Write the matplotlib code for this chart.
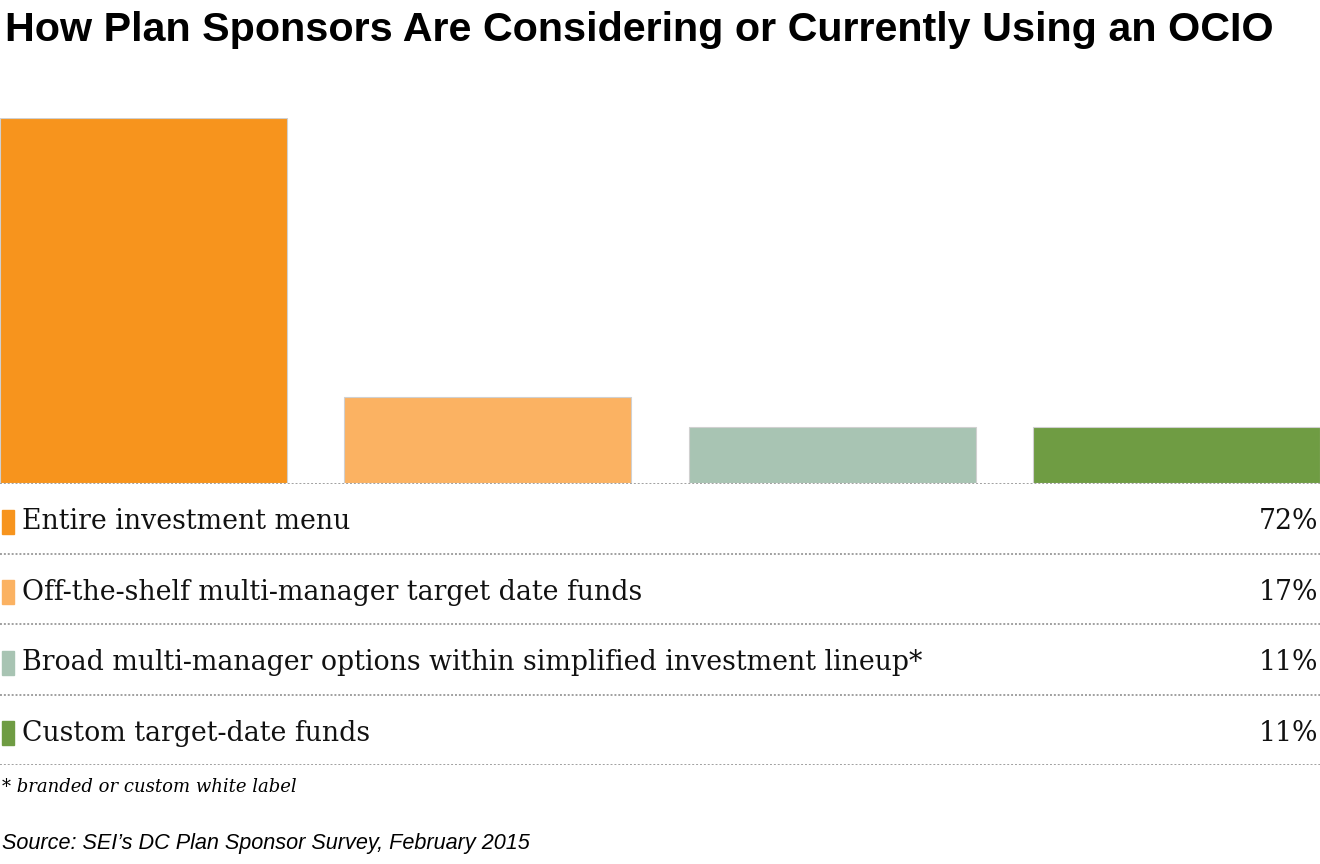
import matplotlib.pyplot as plt
from matplotlib.patches import Rectangle

categories = [
    "Entire investment menu",
    "Off-the-shelf multi-manager target date funds",
    "Broad multi-manager options within simplified investment lineup*",
    "Custom target-date funds",
]
values = [72, 17, 11, 11]
colors = ["#F7941D", "#FBB262", "#A8C4B3", "#6F9C43"]

title = "How Plan Sponsors Are Considering or Currently Using an OCIO"
footnote = "* branded or custom white label"
source = "Source: SEI\u2019s DC Plan Sponsor Survey, February 2015"

W, H = 1320, 864
fig = plt.figure(figsize=(W / 100, H / 100), dpi=100)

# bar panel: baseline at y=483px, 72% reaches y=118px
ax = fig.add_axes([0, 1 - 483 / H, 1, (483 - 118) / H])
width = 287 / 344.3
x = range(len(values))
ax.bar(x, values, width=width, color=colors, edgecolor="#d0d0d0", linewidth=0.8)
ax.set_xlim(-width / 2, len(values) - 1 + width / 2)
ax.set_ylim(0, max(values))
ax.axis("off")

# legend table below the bars
row_h = 70.5
n = len(categories)
tab = fig.add_axes([0, 1 - (483 + n * row_h) / H, 1, n * row_h / H])
tab.set_xlim(0, W)
tab.set_ylim(n, 0)
tab.axis("off")

dot = dict(color="#a0a0a0", linewidth=1.4, linestyle=(0, (1, 1)))
tab.axhline(0, **dot)
for i, (cat, val, c) in enumerate(zip(categories, values, colors)):
    yc = i + 0.55
    tab.add_patch(Rectangle((2, yc - 0.17), 12, 0.34, color=c))
    tab.text(22, yc, cat, fontsize=19.3, family="DejaVu Serif",
             va="center", ha="left", color="#111111")
    tab.text(W - 2, yc, f"{val}%", fontsize=19.3, family="DejaVu Serif",
             va="center", ha="right", color="#111111")
    tab.axhline(i + 1, **dot)

fig.text(5 / W, 1 - 30 / H, title, fontsize=29.7, fontweight="bold",
         family="Liberation Sans", va="center", ha="left")
fig.text(2 / W, 1 - 787 / H, footnote, fontsize=13, family="DejaVu Serif",
         style="italic", va="center", ha="left")
fig.text(2 / W, 1 - 843 / H, source, fontsize=15.6, family="Liberation Sans",
         style="italic", va="center", ha="left")

fig.savefig("out.png", dpi=100)
